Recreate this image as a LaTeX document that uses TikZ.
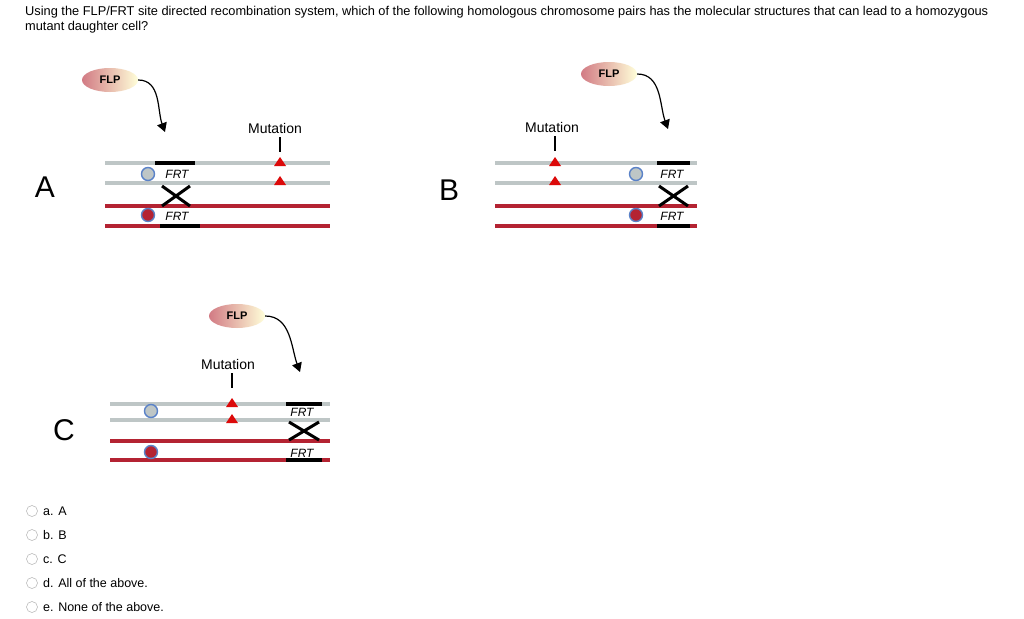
\documentclass[tikz,border=0pt]{standalone}
\usepackage{fontspec}
\setmainfont{Liberation Sans}
\usetikzlibrary{arrows.meta,shapes.geometric}
\definecolor{gr}{RGB}{190,198,198}
\definecolor{rd}{RGB}{180,35,50}
\definecolor{tr}{RGB}{220,10,10}
\definecolor{bl}{RGB}{90,130,200}
\tikzset{x=1pt,y=-1pt,
 grl/.style={gr,line width=3.5pt},
 rdl/.style={rd,line width=3.5pt},
 bar/.style={black,line width=3.5pt},
 crs/.style={black,line width=3pt},
 flp/.style={ellipse,minimum width=56pt,minimum height=24pt,inner sep=0pt,left color=rd!60,right color=yellow!15,font=\bfseries\fontsize{11}{12}\selectfont},
 frt/.style={font=\itshape\fontsize{12}{13}\selectfont,inner sep=0pt},
 mut/.style={font=\fontsize{14}{16}\selectfont,inner sep=0pt},
 tri/.style={tr,fill=tr},
 arr/.style={black,line width=1.2pt,-{Triangle[length=9pt,width=10pt]}},
 big/.style={font=\fontsize{30}{32}\selectfont,inner sep=0pt},
 opt/.style={font=\fontsize{12.5}{14}\selectfont,anchor=west,inner sep=0pt},
 oc/.style={draw=gray!60,line width=0.5pt,circle,minimum size=11pt,inner sep=0pt},
 cg/.style={bl,line width=1.4pt,fill=gr},
 cr/.style={bl,line width=1.4pt,fill=rd}}
\begin{document}
\begin{tikzpicture}
\useasboundingbox (0,0) rectangle (1024,618);
\fill[white] (0,0) rectangle (1024,618);
\node[anchor=west,inner sep=0pt,font=\fontsize{12.8}{14}\selectfont] (q1) at (25,12) {Using the FLP/FRT site directed recombination system, which of the following homologous chromosome pairs has the molecular structures that can lead to a homozygous};
\node[anchor=west,inner sep=0pt,font=\fontsize{12.8}{14}\selectfont] (q2) at (25,27) {mutant daughter cell?};
% Panel A
\node[big] (A) at (45,187) {A};
\draw[grl] (105,163) -- (330,163); \draw[grl] (105,183) -- (330,183);
\draw[rdl] (105,206) -- (330,206); \draw[rdl] (105,226) -- (330,226);
\draw[bar] (155,163) -- (195,163); \draw[bar] (160,226) -- (200,226);
\draw[crs] (162,186) -- (190,206); \draw[crs] (190,186) -- (162,206);
\draw[cg] (148,174) circle (6.5);
\draw[cr] (148,215) circle (6.5);
\node[frt] (fa1) at (177,174) {FRT}; \node[frt] (fa2) at (177,216) {FRT};
\node[mut] (ma) at (275,128) {Mutation};
\draw[black,line width=1.5pt] (280,137) -- (280,152);
\fill[tri] (274,166) -- (286,166) -- (280,157) -- cycle;
\fill[tri] (274,185) -- (286,185) -- (280,176) -- cycle;
\node[flp] (flpa) at (110,80) {FLP};
\coordinate (ta) at (165,132);
\draw[arr] (flpa.east) to[out=0,in=110] (ta);
% Panel B
\node[big] (B) at (449,190) {B};
\draw[grl] (495,163) -- (697,163); \draw[grl] (495,183) -- (697,183);
\draw[rdl] (495,206) -- (697,206); \draw[rdl] (495,226) -- (697,226);
\draw[bar] (657,163) -- (690,163); \draw[bar] (657,226) -- (690,226);
\draw[crs] (659,186) -- (688,206); \draw[crs] (688,186) -- (659,206);
\draw[cg] (636,174) circle (6.5);
\draw[cr] (636,215) circle (6.5);
\node[frt] (fb1) at (672,174) {FRT}; \node[frt] (fb2) at (672,216) {FRT};
\node[mut] (mb) at (552,127) {Mutation};
\draw[black,line width=1.5pt] (555,136) -- (555,151);
\fill[tri] (549,166) -- (561,166) -- (555,157) -- cycle;
\fill[tri] (549,185) -- (561,185) -- (555,176) -- cycle;
\node[flp] (flpb) at (609,74) {FLP};
\coordinate (tb) at (668,129);
\draw[arr] (flpb.east) to[out=0,in=110] (tb);
% Panel C
\node[big] (C) at (64,430) {C};
\draw[grl] (110,404) -- (330,404); \draw[grl] (110,420) -- (330,420);
\draw[rdl] (110,441) -- (330,441); \draw[rdl] (110,460) -- (330,460);
\draw[bar] (286,404) -- (322,404); \draw[bar] (286,460) -- (322,460);
\draw[crs] (289,422) -- (319,440); \draw[crs] (319,422) -- (289,440);
\draw[cg] (151,411) circle (6.5);
\draw[cr] (151,452) circle (6.5);
\node[frt] (fc1) at (302,412) {FRT}; \node[frt] (fc2) at (302,453) {FRT};
\node[mut] (mc) at (228,364) {Mutation};
\draw[black,line width=1.5pt] (232,373) -- (232,388);
\fill[tri] (226,407) -- (238,407) -- (232,398) -- cycle;
\fill[tri] (226,423) -- (238,423) -- (232,414) -- cycle;
\node[flp] (flpc) at (237,316) {FLP};
\coordinate (tc) at (300,372);
\draw[arr] (flpc.east) to[out=0,in=110] (tc);
% options
\node[oc] (o1) at (32,511) {}; \node[opt] (t1) at (43,511) {a. A};
\node[oc] (o2) at (32,535) {}; \node[opt] (t2) at (43,535) {b. B};
\node[oc] (o3) at (32,559) {}; \node[opt] (t3) at (43,559) {c. C};
\node[oc] (o4) at (32,583) {}; \node[opt] (t4) at (43,583) {d. All of the above.};
\node[oc] (o5) at (32,607) {}; \node[opt] (t5) at (43,607) {e. None of the above.};
\end{tikzpicture}
\end{document}
